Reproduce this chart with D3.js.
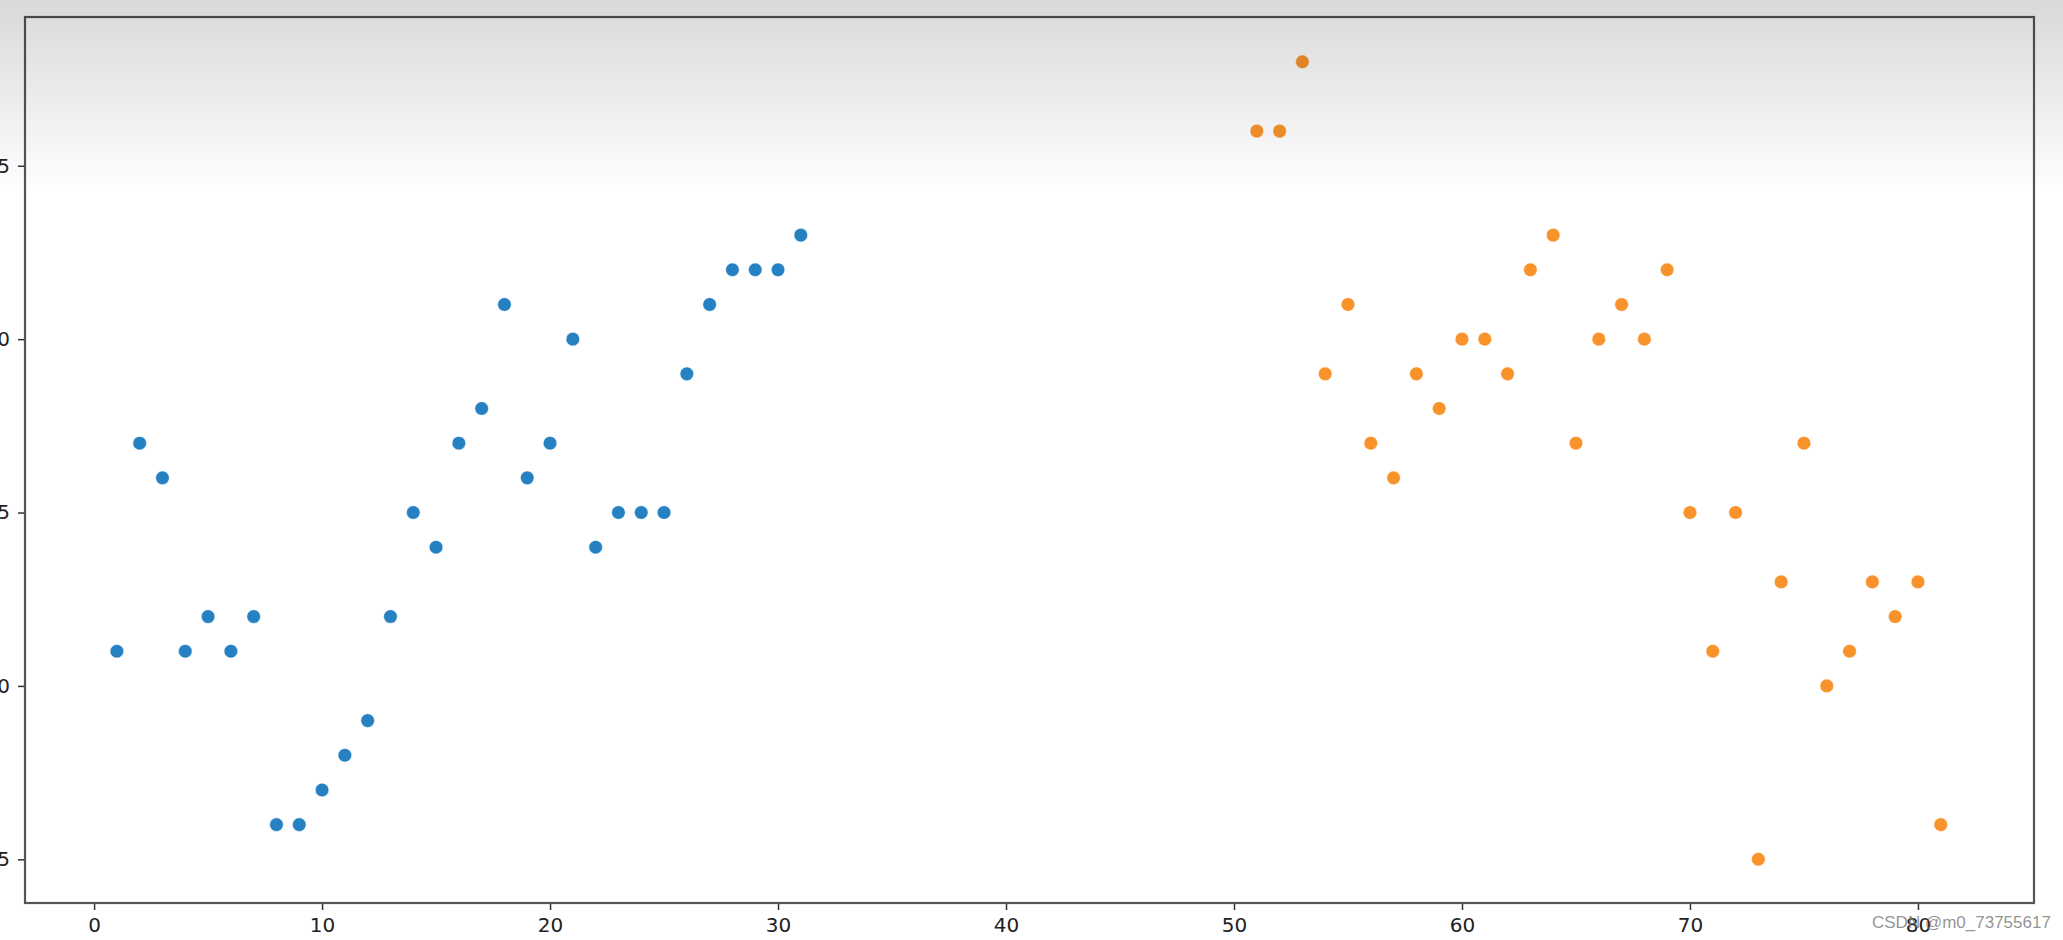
<!DOCTYPE html>
<html>
<head>
<meta charset="utf-8">
<script src="https://cdn.jsdelivr.net/npm/d3@7"></script>
<style>
  html, body { margin: 0; padding: 0; background: #fff; overflow: hidden; }
  svg { display: block; }
</style>
</head>
<body>
<script>
// March (x 1..31) and October (x 51..81) daily values
const marchX = d3.range(1, 32);
const marchY = [11, 17, 16, 11, 12, 11, 12, 6, 6, 7, 8, 9, 12, 15, 14, 17, 18, 21, 16, 17, 20, 14, 15, 15, 15, 19, 21, 22, 22, 22, 23];
const octX = d3.range(51, 82);
const octY = [26, 26, 28, 19, 21, 17, 16, 19, 18, 20, 20, 19, 22, 23, 17, 20, 21, 20, 22, 15, 11, 15, 5, 13, 17, 10, 11, 13, 12, 13, 6];
const xTicks = [0, 10, 20, 30, 40, 50, 60, 70, 80];
const yTicks = [5, 10, 15, 20, 25];

const width = 2063, height = 940;
const box = {left: 25, right: 2034, top: 17, bottom: 903};

const svg = d3.select("body").append("svg")
    .attr("width", width)
    .attr("height", height);

const x = d3.scaleLinear()
    .domain([-3.03, 85.09])
    .range([box.left, box.right]);

const y = d3.scaleLinear()
    .domain([3.74, 29.29])
    .range([box.bottom, box.top]);

const series = [
  {xs: marchX, ys: marchY, color: "#2581c1"},
  {xs: octX, ys: octY, color: "#f8922a"}
];

const dots = svg.append("g");
series.forEach(s => {
  dots.selectAll(null)
    .data(s.xs.map((d, i) => [d, s.ys[i]]))
    .join("circle")
      .attr("cx", d => x(d[0]))
      .attr("cy", d => y(d[1]))
      .attr("r", 6.8)
      .attr("fill", s.color)
      .attr("stroke", "#fff")
      .attr("stroke-opacity", 0.6)
      .attr("stroke-width", 0.8);
});

const font = "'DejaVu Sans', sans-serif";

svg.append("g")
    .attr("transform", `translate(0,${box.bottom})`)
    .call(d3.axisBottom(x).tickValues(xTicks).tickSize(7).tickPadding(8).tickSizeOuter(0))
    .call(g => g.select(".domain").remove())
    .call(g => g.selectAll(".tick line").attr("stroke", "#333").attr("stroke-width", 1.5))
    .call(g => g.selectAll(".tick text").attr("fill", "#222").attr("font-size", 20).attr("font-family", font));

svg.append("g")
    .attr("transform", `translate(${box.left},0)`)
    .call(d3.axisLeft(y).tickValues(yTicks).tickSize(7).tickPadding(8).tickSizeOuter(0))
    .call(g => g.select(".domain").remove())
    .call(g => g.selectAll(".tick line").attr("stroke", "#333").attr("stroke-width", 1.5))
    .call(g => g.selectAll(".tick text").attr("fill", "#222").attr("font-size", 20).attr("font-family", font));

// frame
svg.append("rect")
    .attr("x", box.left)
    .attr("y", box.top)
    .attr("width", box.right - box.left)
    .attr("height", box.bottom - box.top)
    .attr("fill", "none")
    .attr("stroke", "#555")
    .attr("stroke-width", 2.2);

// watermark
svg.append("text")
    .attr("x", 1872)
    .attr("y", 928)
    .attr("font-family", "'Liberation Sans', Arial, sans-serif")
    .attr("font-size", 17)
    .attr("fill", "#7f7f7f")
    .attr("fill-opacity", 0.85)
    .text("CSDN @m0_73755617");

// grey shade over the top of the screenshot
const grad = svg.append("defs").append("linearGradient")
    .attr("id", "shade")
    .attr("x1", 0).attr("y1", 0).attr("x2", 0).attr("y2", 1);
grad.append("stop").attr("offset", "0%").attr("stop-color", "#000").attr("stop-opacity", 0.15);
grad.append("stop").attr("offset", "60%").attr("stop-color", "#000").attr("stop-opacity", 0.06);
grad.append("stop").attr("offset", "100%").attr("stop-color", "#000").attr("stop-opacity", 0);

svg.append("rect")
    .attr("x", 0)
    .attr("y", 0)
    .attr("width", width)
    .attr("height", 195)
    .attr("fill", "url(#shade)")
    .attr("pointer-events", "none");
</script>
</body>
</html>
